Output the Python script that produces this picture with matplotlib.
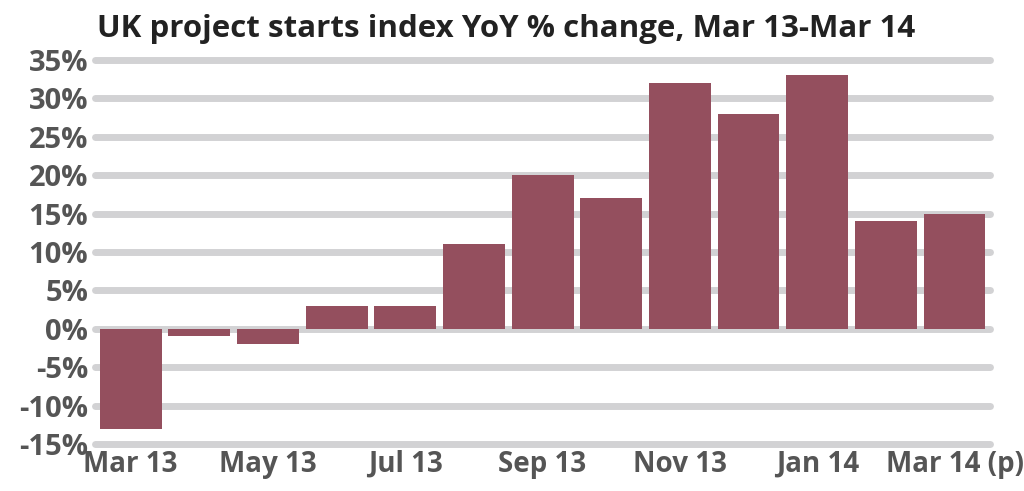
# bar chart: UK project starts index YoY % change
import matplotlib.pyplot as plt
import numpy as np

months = ['Mar 13', 'Apr 13', 'May 13', 'Jun 13', 'Jul 13', 'Aug 13', 'Sep 13',
          'Oct 13', 'Nov 13', 'Dec 13', 'Jan 14', 'Feb 14', 'Mar 14 (p)']
yoy_change = [-13, -1, -2, 3, 3, 11, 20, 17, 32, 28, 33, 14, 15]
y_ticks = [-15, -10, -5, 0, 5, 10, 15, 20, 25, 30, 35]

plt.rcParams['font.family'] = ['Open Sans', 'DejaVu Sans']

fig = plt.figure(figsize=(10.24, 4.91), dpi=100)
ax = fig.add_axes([0.0928, 0.0957, 0.967 - 0.0928, 0.878 - 0.0957])

x = np.arange(len(months))
# gridlines behind the bars
for t in y_ticks:
    ax.axhline(t, color='#d2d2d4', lw=5, solid_capstyle='round', zorder=1, clip_on=False)
ax.bar(x, yoy_change, width=0.9, color='#944f5e', zorder=2)

ax.set_xlim(-0.52, len(months) - 0.48)
ax.set_ylim(-15, 35)
ax.set_yticks(y_ticks)
ax.set_yticklabels([f'{t}%' for t in y_ticks])
ax.set_xticks(x[::2])
ax.set_xticklabels(months[::2])
ax.tick_params(axis='y', length=0, labelsize=21, labelcolor='#555555', pad=5)
ax.tick_params(axis='x', length=0, labelsize=20, labelcolor='#555555', pad=4)
for lab in ax.get_xticklabels() + ax.get_yticklabels():
    lab.set_fontweight('bold')
for s in ax.spines.values():
    s.set_visible(False)

fig.text(0.095, 0.925, 'UK project starts index YoY % change, Mar 13-Mar 14',
         fontsize=22.5, fontweight='bold', color='#222222', va='baseline')

plt.savefig('out.png', dpi=100)
